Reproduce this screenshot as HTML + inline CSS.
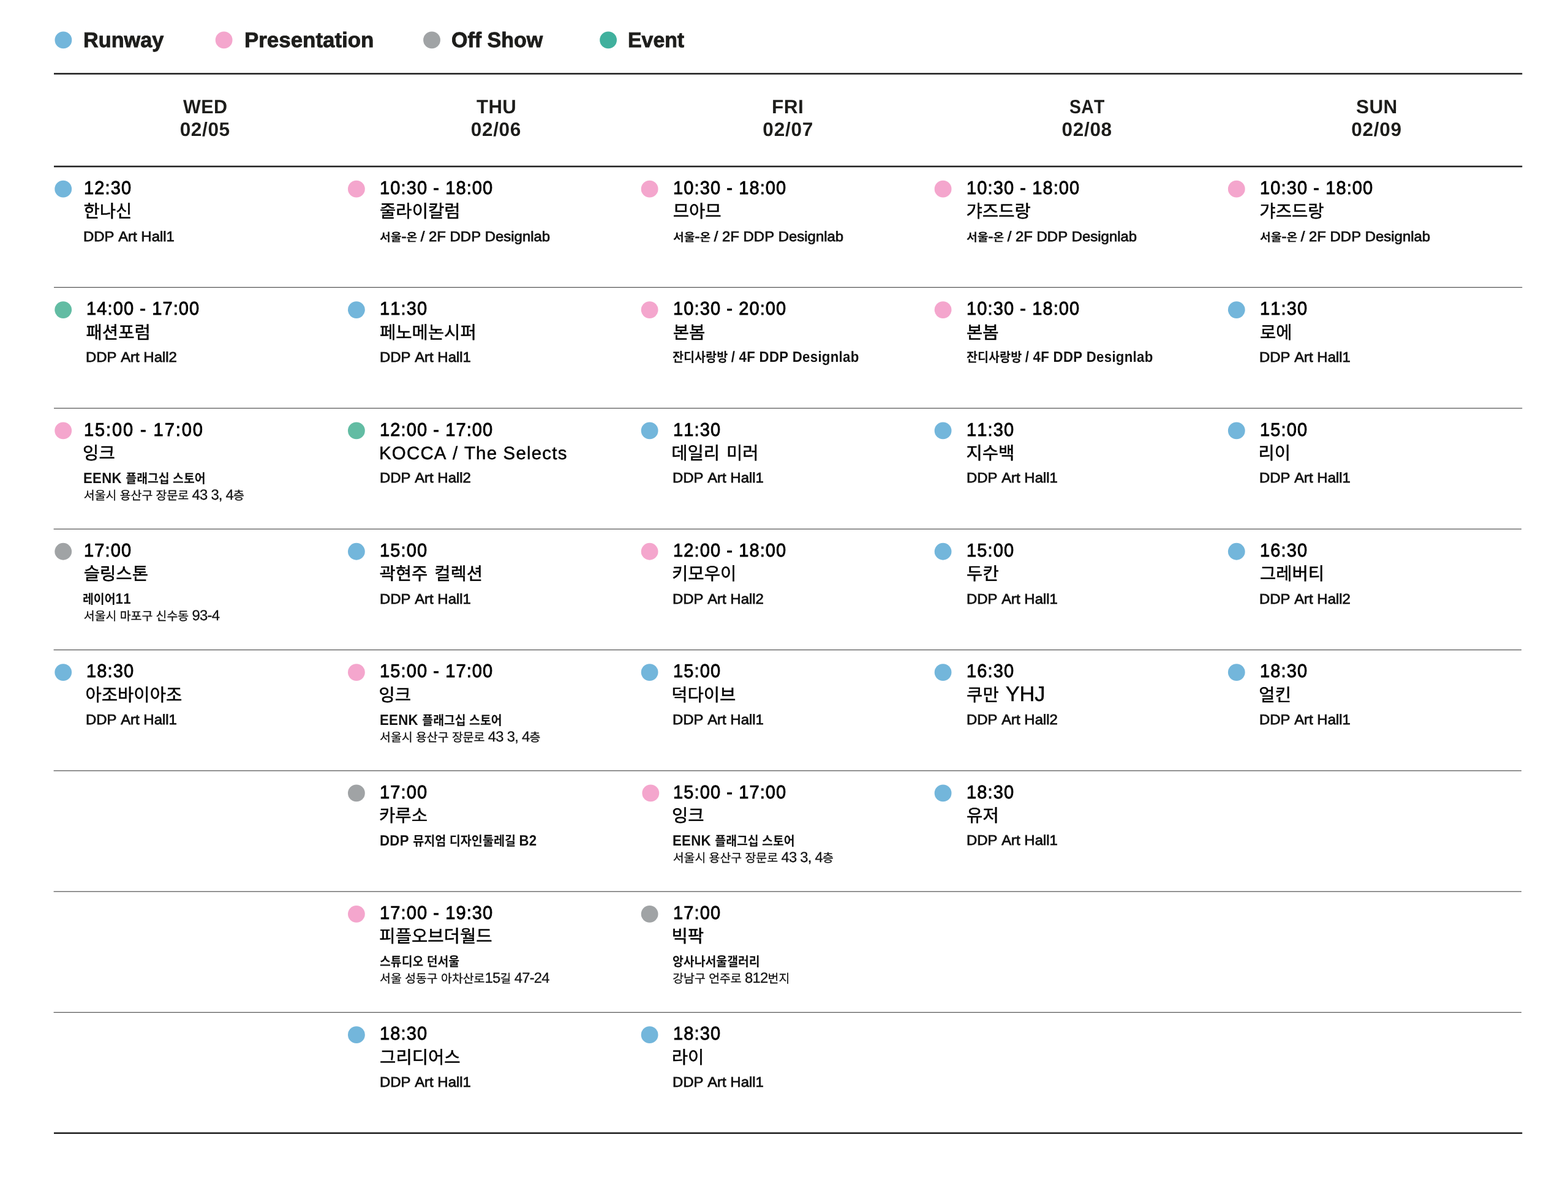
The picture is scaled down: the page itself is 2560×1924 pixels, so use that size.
<!DOCTYPE html>
<html lang="ko"><head><meta charset="utf-8"><title>Schedule</title>
<style>
html,body{margin:0;padding:0;background:#fff}
body{width:2560px;height:1924px;position:relative;overflow:hidden;font-family:"Liberation Sans","Noto Sans CJK KR",sans-serif;font-kerning:none;text-rendering:geometricPrecision;will-change:transform}
.bg{position:absolute;left:0;top:0}
.ln{position:absolute;white-space:nowrap;height:40px;line-height:40px;margin:0;transform-origin:0 50%}
.kn{font-size:28.6px;letter-spacing:0;word-spacing:3px}
.kb{font-size:21.3px;letter-spacing:0}
.km{font-size:21.55px;letter-spacing:0}
.k2{font-size:19.4px;letter-spacing:0}
.kl{font-size:18.6px;letter-spacing:0;font-weight:bold;-webkit-text-stroke:0}
.leg{font-size:34.7px;font-weight:bold;color:#1d1d1b;-webkit-text-stroke:0.85px #1d1d1b}
.hd{font-size:31.6px;font-weight:bold;color:#1d1d1b}
.time{font-size:30.4px;letter-spacing:1.15px;color:#000;-webkit-text-stroke:0.90px #000;transform:scaleX(0.955);}
.name{font-size:29.4px;letter-spacing:1.23px;color:#000;-webkit-text-stroke:0.50px #000;}
.loc{font-size:23.0px;letter-spacing:-0.00px;color:#111;-webkit-text-stroke:0.75px #111;transform:scaleX(1.040);}
.locm{font-size:24.4px;letter-spacing:0.33px;color:#111;transform:scaleX(0.910);font-weight:bold;}
.locb{font-size:24.4px;letter-spacing:0.33px;color:#111;transform:scaleX(0.910);font-weight:bold;}
.loc2{font-size:23.8px;letter-spacing:-0.74px;color:#111;-webkit-text-stroke:0.30px #111;}
</style></head>
<body>
<svg class="bg" width="2560" height="1924">
<circle cx="103.40" cy="65.40" r="13.90" fill="#73b6db"/>
<circle cx="365.60" cy="65.40" r="13.90" fill="#f4a6cd"/>
<circle cx="705.00" cy="65.40" r="13.90" fill="#a0a3a5"/>
<circle cx="993.10" cy="65.40" r="13.90" fill="#40b09d"/>
<rect x="88.00" y="119.10" width="2397.30" height="2.60" fill="#222"/>
<rect x="88.00" y="270.60" width="2397.30" height="2.60" fill="#222"/>
<rect x="88.00" y="468.77" width="2397.30" height="1.25" fill="#555"/>
<rect x="88.00" y="666.12" width="2397.30" height="1.25" fill="#555"/>
<rect x="87.60" y="863.47" width="2396.40" height="1.25" fill="#555"/>
<rect x="87.60" y="1060.83" width="2396.40" height="1.25" fill="#555"/>
<rect x="87.60" y="1258.18" width="2396.40" height="1.25" fill="#555"/>
<rect x="87.60" y="1455.53" width="2396.40" height="1.25" fill="#555"/>
<rect x="87.60" y="1652.88" width="2396.40" height="1.25" fill="#555"/>
<rect x="88.00" y="1849.40" width="2397.30" height="2.60" fill="#222"/>
<circle cx="103.20" cy="308.70" r="13.90" fill="#73b6db"/>
<circle cx="103.20" cy="506.05" r="13.90" fill="#62bca3"/>
<circle cx="103.20" cy="703.40" r="13.90" fill="#f4a6cd"/>
<circle cx="103.20" cy="900.75" r="13.90" fill="#a0a3a5"/>
<circle cx="103.20" cy="1098.10" r="13.90" fill="#73b6db"/>
<circle cx="581.90" cy="308.70" r="13.90" fill="#f4a6cd"/>
<circle cx="581.90" cy="506.05" r="13.90" fill="#73b6db"/>
<circle cx="581.90" cy="703.40" r="13.90" fill="#62bca3"/>
<circle cx="581.90" cy="900.75" r="13.90" fill="#73b6db"/>
<circle cx="581.90" cy="1098.10" r="13.90" fill="#f4a6cd"/>
<circle cx="581.90" cy="1295.45" r="13.90" fill="#a0a3a5"/>
<circle cx="581.90" cy="1492.80" r="13.90" fill="#f4a6cd"/>
<circle cx="581.90" cy="1690.15" r="13.90" fill="#73b6db"/>
<circle cx="1060.60" cy="308.70" r="13.90" fill="#f4a6cd"/>
<circle cx="1060.60" cy="506.05" r="13.90" fill="#f4a6cd"/>
<circle cx="1060.60" cy="703.40" r="13.90" fill="#73b6db"/>
<circle cx="1060.60" cy="900.75" r="13.90" fill="#f4a6cd"/>
<circle cx="1060.60" cy="1098.10" r="13.90" fill="#73b6db"/>
<circle cx="1062.30" cy="1295.45" r="13.90" fill="#f4a6cd"/>
<circle cx="1060.60" cy="1492.80" r="13.90" fill="#a0a3a5"/>
<circle cx="1060.60" cy="1690.15" r="13.90" fill="#73b6db"/>
<circle cx="1539.60" cy="308.70" r="13.90" fill="#f4a6cd"/>
<circle cx="1539.60" cy="506.05" r="13.90" fill="#f4a6cd"/>
<circle cx="1539.60" cy="703.40" r="13.90" fill="#73b6db"/>
<circle cx="1539.60" cy="900.75" r="13.90" fill="#73b6db"/>
<circle cx="1539.60" cy="1098.10" r="13.90" fill="#73b6db"/>
<circle cx="1539.60" cy="1295.45" r="13.90" fill="#73b6db"/>
<circle cx="2018.80" cy="308.70" r="13.90" fill="#f4a6cd"/>
<circle cx="2018.80" cy="506.05" r="13.90" fill="#73b6db"/>
<circle cx="2018.80" cy="703.40" r="13.90" fill="#73b6db"/>
<circle cx="2018.80" cy="900.75" r="13.90" fill="#73b6db"/>
<circle cx="2018.80" cy="1098.10" r="13.90" fill="#73b6db"/>
</svg>
<div class="ln leg" style="left:136.43px;top:46px;transform:scaleX(0.9872)">Runway</div>
<div class="ln leg" style="left:399.29px;top:46px;transform:scaleX(1.0060)">Presentation</div>
<div class="ln leg" style="left:737.02px;top:46px;transform:scaleX(0.9805)">Off Show</div>
<div class="ln leg" style="left:1025.05px;top:46px;transform:scaleX(0.9752)">Event</div>
<div class="ln hd" style="left:299.27px;top:154px;letter-spacing:0.40px;transform:scaleX(0.9649)">WED</div>
<div class="ln hd" style="left:293.65px;top:191px;letter-spacing:0.61px;transform:scaleX(1.0000)">02/05</div>
<div class="ln hd" style="left:778.00px;top:154px;letter-spacing:0.40px;transform:scaleX(0.9849)">THU</div>
<div class="ln hd" style="left:768.65px;top:191px;letter-spacing:0.68px;transform:scaleX(1.0000)">02/06</div>
<div class="ln hd" style="left:1260.44px;top:154px;letter-spacing:0.40px;transform:scaleX(1.0005)">FRI</div>
<div class="ln hd" style="left:1245.35px;top:191px;letter-spacing:0.74px;transform:scaleX(1.0000)">02/07</div>
<div class="ln hd" style="left:1745.53px;top:154px;letter-spacing:0.40px;transform:scaleX(0.8972)">SAT</div>
<div class="ln hd" style="left:1733.55px;top:191px;letter-spacing:0.64px;transform:scaleX(1.0000)">02/08</div>
<div class="ln hd" style="left:2214.29px;top:154px;letter-spacing:0.40px;transform:scaleX(0.9957)">SUN</div>
<div class="ln hd" style="left:2206.35px;top:191px;letter-spacing:0.69px;transform:scaleX(1.0000)">02/09</div>
<div class="ln time" style="left:136.92px;top:287px;">12:30</div>
<div class="ln name" style="left:136.47px;top:326px;"><span class="kn">한나신</span></div>
<div class="ln loc" style="left:136.33px;top:366px;">DDP Art Hall1</div>
<div class="ln time" style="left:140.92px;top:484px;">14:00 - 17:00</div>
<div class="ln name" style="left:140.55px;top:524px;"><span class="kn">패션포럼</span></div>
<div class="ln loc" style="left:140.33px;top:563px;">DDP Art Hall2</div>
<div class="ln time" style="left:136.92px;top:682px;letter-spacing:1.99px;">15:00 - 17:00</div>
<div class="ln name" style="left:135.09px;top:721px;"><span class="kn">잉크</span></div>
<div class="ln locb" style="left:136.41px;top:762px;">EENK <span class="kb">플래그십 스토어</span></div>
<div class="ln loc2" style="left:136.81px;top:789px;"><span class="k2">서울시 용산구 장문로 </span>43 3, 4<span class="k2">층</span></div>
<div class="ln time" style="left:136.92px;top:879px;">17:00</div>
<div class="ln name" style="left:136.75px;top:918px;"><span class="kn">슬링스톤</span></div>
<div class="ln locb" style="left:135.38px;top:959px;"><span class="kb">레이어</span>11</div>
<div class="ln loc2" style="left:136.81px;top:986px;"><span class="k2">서울시 마포구 신수동 </span>93-4</div>
<div class="ln time" style="left:140.92px;top:1076px;">18:30</div>
<div class="ln name" style="left:139.44px;top:1116px;"><span class="kn">아조바이아조</span></div>
<div class="ln loc" style="left:140.33px;top:1155px;">DDP Art Hall1</div>
<div class="ln time" style="left:620.22px;top:287px;">10:30 - 18:00</div>
<div class="ln name" style="left:620.05px;top:326px;"><span class="kn">줄라이칼럼</span></div>
<div class="ln loc" style="left:620.16px;top:366px;"><span class="kl">서울</span>-<span class="kl">온 </span>/ 2F DDP Designlab</div>
<div class="ln time" style="left:620.22px;top:484px;">11:30</div>
<div class="ln name" style="left:619.88px;top:524px;"><span class="kn">페노메논시퍼</span></div>
<div class="ln loc" style="left:619.63px;top:563px;">DDP Art Hall1</div>
<div class="ln time" style="left:620.22px;top:682px;">12:00 - 17:00</div>
<div class="ln name" style="left:619.04px;top:721px;">KOCCA / The Selects</div>
<div class="ln loc" style="left:619.63px;top:760px;">DDP Art Hall2</div>
<div class="ln time" style="left:620.22px;top:879px;">15:00</div>
<div class="ln name" style="left:619.40px;top:918px;"><span class="kn">곽현주 컬렉션</span></div>
<div class="ln loc" style="left:619.63px;top:958px;">DDP Art Hall1</div>
<div class="ln time" style="left:620.22px;top:1076px;">15:00 - 17:00</div>
<div class="ln name" style="left:618.39px;top:1116px;"><span class="kn">잉크</span></div>
<div class="ln locb" style="left:619.71px;top:1157px;">EENK <span class="kb">플래그십 스토어</span></div>
<div class="ln loc2" style="left:620.11px;top:1184px;"><span class="k2">서울시 용산구 장문로 </span>43 3, 4<span class="k2">층</span></div>
<div class="ln time" style="left:620.22px;top:1274px;">17:00</div>
<div class="ln name" style="left:619.05px;top:1313px;"><span class="kn">카루소</span></div>
<div class="ln locm" style="left:619.71px;top:1354px;">DDP <span class="km">뮤지엄 디자인둘레길 </span>B2</div>
<div class="ln time" style="left:620.22px;top:1471px;">17:00 - 19:30</div>
<div class="ln name" style="left:619.37px;top:1510px;"><span class="kn">피플오브더월드</span></div>
<div class="ln locb" style="left:619.77px;top:1551px;"><span class="kb">스튜디오 던서울</span></div>
<div class="ln loc2" style="left:620.11px;top:1578px;"><span class="k2">서울 성동구 아차산로</span>15<span class="k2">길 </span>47-24</div>
<div class="ln time" style="left:620.22px;top:1668px;">18:30</div>
<div class="ln name" style="left:620.08px;top:1708px;"><span class="kn">그리디어스</span></div>
<div class="ln loc" style="left:619.63px;top:1747px;">DDP Art Hall1</div>
<div class="ln time" style="left:1098.82px;top:287px;">10:30 - 18:00</div>
<div class="ln name" style="left:1098.68px;top:326px;"><span class="kn">므아므</span></div>
<div class="ln loc" style="left:1098.76px;top:366px;"><span class="kl">서울</span>-<span class="kl">온 </span>/ 2F DDP Designlab</div>
<div class="ln time" style="left:1098.82px;top:484px;">10:30 - 20:00</div>
<div class="ln name" style="left:1098.65px;top:524px;"><span class="kn">본봄</span></div>
<div class="ln locm" style="left:1098.42px;top:564px;"><span class="km">잔디사랑방 </span>/ 4F DDP Designlab</div>
<div class="ln time" style="left:1098.82px;top:682px;">11:30</div>
<div class="ln name" style="left:1096.16px;top:721px;"><span class="kn">데일리 미러</span></div>
<div class="ln loc" style="left:1098.23px;top:760px;">DDP Art Hall1</div>
<div class="ln time" style="left:1098.82px;top:879px;">12:00 - 18:00</div>
<div class="ln name" style="left:1097.05px;top:918px;"><span class="kn">키모우이</span></div>
<div class="ln loc" style="left:1098.23px;top:958px;">DDP Art Hall2</div>
<div class="ln time" style="left:1098.82px;top:1076px;">15:00</div>
<div class="ln name" style="left:1096.13px;top:1116px;"><span class="kn">덕다이브</span></div>
<div class="ln loc" style="left:1098.23px;top:1155px;">DDP Art Hall1</div>
<div class="ln time" style="left:1098.82px;top:1274px;">15:00 - 17:00</div>
<div class="ln name" style="left:1096.99px;top:1313px;"><span class="kn">잉크</span></div>
<div class="ln locb" style="left:1098.31px;top:1354px;">EENK <span class="kb">플래그십 스토어</span></div>
<div class="ln loc2" style="left:1098.71px;top:1381px;"><span class="k2">서울시 용산구 장문로 </span>43 3, 4<span class="k2">층</span></div>
<div class="ln time" style="left:1098.82px;top:1471px;">17:00</div>
<div class="ln name" style="left:1096.51px;top:1510px;"><span class="kn">빅팍</span></div>
<div class="ln locb" style="left:1097.90px;top:1551px;"><span class="kb">앙사나서울갤러리</span></div>
<div class="ln loc2" style="left:1098.27px;top:1578px;"><span class="k2">강남구 언주로 </span>812<span class="k2">번지</span></div>
<div class="ln time" style="left:1098.82px;top:1668px;">18:30</div>
<div class="ln name" style="left:1096.82px;top:1708px;"><span class="kn">라이</span></div>
<div class="ln loc" style="left:1098.23px;top:1747px;">DDP Art Hall1</div>
<div class="ln time" style="left:1578.22px;top:287px;">10:30 - 18:00</div>
<div class="ln name" style="left:1577.54px;top:326px;"><span class="kn">갸즈드랑</span></div>
<div class="ln loc" style="left:1578.16px;top:366px;"><span class="kl">서울</span>-<span class="kl">온 </span>/ 2F DDP Designlab</div>
<div class="ln time" style="left:1578.22px;top:484px;">10:30 - 18:00</div>
<div class="ln name" style="left:1578.05px;top:524px;"><span class="kn">본봄</span></div>
<div class="ln locm" style="left:1577.82px;top:564px;"><span class="km">잔디사랑방 </span>/ 4F DDP Designlab</div>
<div class="ln time" style="left:1578.22px;top:682px;">11:30</div>
<div class="ln name" style="left:1577.42px;top:721px;"><span class="kn">지수백</span></div>
<div class="ln loc" style="left:1577.63px;top:760px;">DDP Art Hall1</div>
<div class="ln time" style="left:1578.22px;top:879px;">15:00</div>
<div class="ln name" style="left:1578.08px;top:918px;"><span class="kn">두칸</span></div>
<div class="ln loc" style="left:1577.63px;top:958px;">DDP Art Hall1</div>
<div class="ln time" style="left:1578.22px;top:1076px;">16:30</div>
<div class="ln name" style="left:1578.08px;top:1114px;font-size:34.5px;letter-spacing:-0.18px;-webkit-text-stroke:0.40px #000;"><span class="kn">쿠만 </span>YHJ</div>
<div class="ln loc" style="left:1577.63px;top:1155px;">DDP Art Hall2</div>
<div class="ln time" style="left:1578.22px;top:1274px;">18:30</div>
<div class="ln name" style="left:1578.08px;top:1313px;"><span class="kn">유저</span></div>
<div class="ln loc" style="left:1577.63px;top:1352px;">DDP Art Hall1</div>
<div class="ln time" style="left:2057.02px;top:287px;">10:30 - 18:00</div>
<div class="ln name" style="left:2056.34px;top:326px;"><span class="kn">갸즈드랑</span></div>
<div class="ln loc" style="left:2056.96px;top:366px;"><span class="kl">서울</span>-<span class="kl">온 </span>/ 2F DDP Designlab</div>
<div class="ln time" style="left:2057.02px;top:484px;">11:30</div>
<div class="ln name" style="left:2056.88px;top:524px;"><span class="kn">로에</span></div>
<div class="ln loc" style="left:2056.43px;top:563px;">DDP Art Hall1</div>
<div class="ln time" style="left:2057.02px;top:682px;">15:00</div>
<div class="ln name" style="left:2054.56px;top:721px;"><span class="kn">리이</span></div>
<div class="ln loc" style="left:2056.43px;top:760px;">DDP Art Hall1</div>
<div class="ln time" style="left:2057.02px;top:879px;">16:30</div>
<div class="ln name" style="left:2056.88px;top:918px;"><span class="kn">그레버티</span></div>
<div class="ln loc" style="left:2056.43px;top:958px;">DDP Art Hall2</div>
<div class="ln time" style="left:2057.02px;top:1076px;">18:30</div>
<div class="ln name" style="left:2055.34px;top:1116px;"><span class="kn">얼킨</span></div>
<div class="ln loc" style="left:2056.43px;top:1155px;">DDP Art Hall1</div>
</body></html>
